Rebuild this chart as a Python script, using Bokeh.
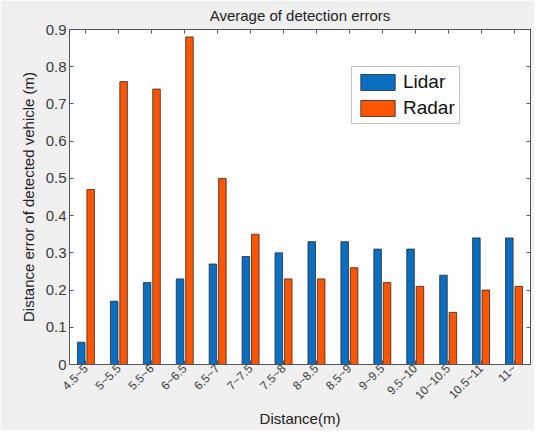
from bokeh.plotting import figure
from bokeh.models import (FactorRange, ColumnDataSource, LinearAxis, CategoricalAxis, Legend, LegendItem,
                          FixedTicker, Range1d, CustomLabelingPolicy)
from bokeh.transform import dodge
from bokeh.embed import file_html
from bokeh.resources import INLINE
from math import pi

categories = ["4.5~5", "5~5.5", "5.5~6", "6~6.5", "6.5~7", "7~7.5", "7.5~8",
              "8~8.5", "8.5~9", "9~9.5", "9.5~10", "10~10.5", "10.5~11", "11~"]
lidar = [0.06, 0.17, 0.22, 0.23, 0.27, 0.29, 0.30, 0.33, 0.33, 0.31, 0.31, 0.24, 0.34, 0.34]
radar = [0.47, 0.76, 0.74, 0.88, 0.50, 0.35, 0.23, 0.23, 0.26, 0.22, 0.21, 0.14, 0.20, 0.21]
y_ticks = [0, 0.1, 0.2, 0.3, 0.4, 0.5, 0.6, 0.7, 0.8, 0.9]

src = ColumnDataSource(dict(cat=categories, lidar=lidar, radar=radar))

FONT = "Liberation Sans"
AX = "#555555"
TXT = "#3c3c3c"

p = figure(width=534, height=430, x_range=FactorRange(factors=categories, range_padding=0),
           y_range=Range1d(0, 0.9), output_backend="svg", toolbar_location=None,
           min_border_left=69, min_border_right=3, min_border_top=29, min_border_bottom=64,
           background_fill_color="white", border_fill_color="#f0f0f0")

p.title.text = "Average of detection errors"
p.title.align = "center"
p.title.text_font = FONT
p.title.text_font_size = "15px"
p.title.text_font_style = "normal"
p.title.text_color = "#222222"
p.title.offset = 0
p.title.standoff = 3

p.xgrid.visible = False
p.ygrid.visible = False
p.outline_line_color = AX
p.outline_line_width = 1

r1 = p.vbar(x=dodge("cat", -0.143, range=p.x_range), top="lidar", width=0.229, source=src,
            fill_color="#0a6fc2", line_color="#2a2a2a", line_width=0.8)
r2 = p.vbar(x=dodge("cat", 0.143, range=p.x_range), top="radar", width=0.229, source=src,
            fill_color="#ff5500", line_color="#2a2a2a", line_width=0.8)

hide = CustomLabelingPolicy(code="for (const i of indices) indices.unset(i)")

def style(ax, labels=True):
    ax.axis_line_color = AX
    ax.major_tick_line_color = AX
    ax.major_tick_in = 4
    ax.major_tick_out = 0
    ax.minor_tick_line_color = None
    ax.major_label_text_font = FONT
    ax.major_label_text_font_size = "15px"
    ax.major_label_text_color = TXT
    ax.axis_label_text_font = FONT
    ax.axis_label_text_font_size = "15px"
    ax.axis_label_text_font_style = "normal"
    ax.axis_label_text_color = "#222222"
    if not labels:
        ax.major_label_policy = hide
        ax.major_label_standoff = 0
        ax.major_label_text_font_size = "1px"

xa = p.xaxis[0]
style(xa)
xa.major_label_orientation = pi / 4
xa.major_label_text_font_size = "12px"
xa.major_label_standoff = 2
xa.axis_label = "Distance(m)"
xa.axis_label_standoff = 0

ya = p.yaxis[0]
style(ya)
ya.ticker = FixedTicker(ticks=y_ticks)
ya.major_label_standoff = 3
ya.axis_label = "Distance error of detected vehicle (m)"
ya.axis_label_standoff = 6

ra = LinearAxis(ticker=FixedTicker(ticks=y_ticks))
style(ra, labels=False)
p.add_layout(ra, "right")

ta = CategoricalAxis()
style(ta, labels=False)
p.add_layout(ta, "above")

legend = Legend(items=[LegendItem(label="Lidar", renderers=[r1]), LegendItem(label="Radar", renderers=[r2])],
                location=(282, 240))
legend.label_text_font = FONT
legend.label_text_font_size = "19px"
legend.label_text_color = "#111111"
legend.glyph_width = 43
legend.glyph_height = 20
legend.label_height = 20
legend.label_standoff = 4
legend.spacing = 4
legend.padding = 4
legend.margin = 0
legend.border_line_color = "#888888"
p.add_layout(legend, "center")

open("out.html", "w").write(file_html(p, INLINE))
